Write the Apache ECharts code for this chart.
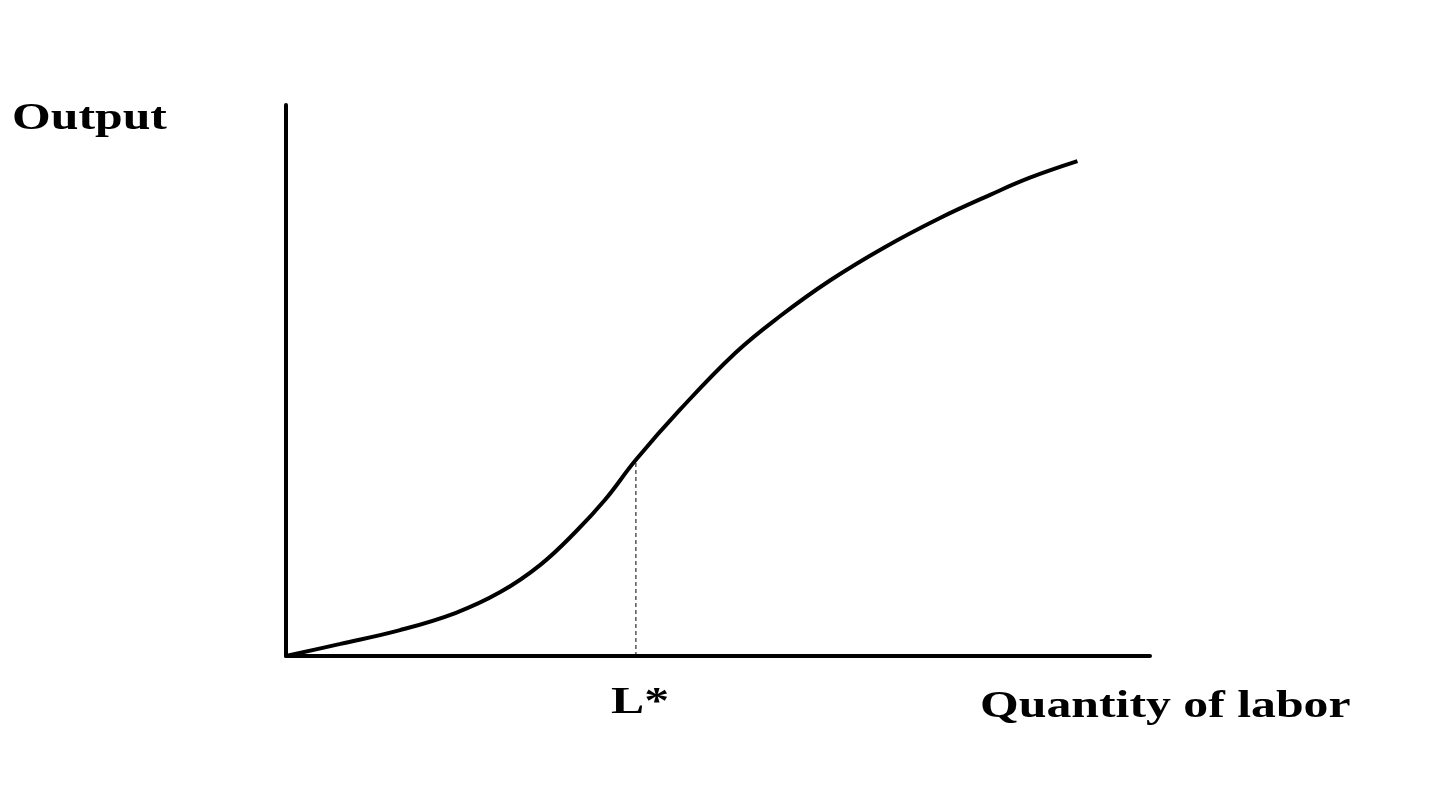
<!DOCTYPE html>
<html>
<head>
<meta charset="utf-8">
<script src="https://cdn.jsdelivr.net/npm/echarts@6/dist/echarts.min.js"></script>
<style>html,body{margin:0;padding:0;background:#fff;}#c{width:1450px;height:810px;}</style>
</head>
<body>
<div id="c"></div>
<script>
// Production function: quantity of labor (x) vs output (y), arbitrary units 0-100
const laborX = [0, 6.3, 13.2, 19.6, 24.8, 29.4, 33.5, 36.9, 40.5, 45.6, 52.0, 57.2, 63.0, 69.3, 75.7, 81.5, 86.1, 91.6];
const outputY = [0, 2.2, 4.7, 7.8, 11.6, 16.5, 22.5, 28.3, 35.6, 44.7, 55.0, 61.7, 68.2, 74.2, 79.5, 83.7, 86.8, 89.8];
const lStar = 40.5;
const lStarOutput = 35.6;
const yAxisTitle = "Output";
const xAxisTitle = "Quantity of labor";
const lStarLabel = "L*";

const chart = echarts.init(document.getElementById('c'));
const fontFamily = '"Liberation Serif", "Times New Roman", serif';
function label(text, x, y) {
  return {
    type: 'text', x: x, y: y, scaleX: 1.31,
    style: { text: text, fill: '#000', font: 'bold 38px ' + fontFamily, textAlign: 'left', textVerticalAlign: 'top' }
  };
}
chart.setOption({
  animation: false,
  backgroundColor: '#fff',
  grid: { left: 286, right: 300, top: 105, bottom: 154 },
  xAxis: {
    type: 'value', min: 0, max: 100,
    axisLine: { show: true, onZero: false, lineStyle: { color: '#000', width: 4 } },
    axisTick: { show: false }, axisLabel: { show: false }, splitLine: { show: false }
  },
  yAxis: {
    type: 'value', min: 0, max: 100,
    axisLine: { show: true, onZero: false, lineStyle: { color: '#000', width: 4 } },
    axisTick: { show: false }, axisLabel: { show: false }, splitLine: { show: false }
  },
  series: [
    {
      type: 'line', smooth: 0.4, symbol: 'none',
      data: laborX.map((x, i) => [x, outputY[i]]),
      lineStyle: { color: '#000', width: 4 }
    },
    {
      type: 'line', symbol: 'none', z: 1,
      data: [[lStar, 0], [lStar, lStarOutput]],
      lineStyle: { color: '#000', width: 1, type: [4, 3] }
    }
  ],
  graphic: [
    label(yAxisTitle, 12, 100),
    label(lStarLabel, 611, 684),
    label(xAxisTitle, 980, 688)
  ]
});
</script>
</body>
</html>
